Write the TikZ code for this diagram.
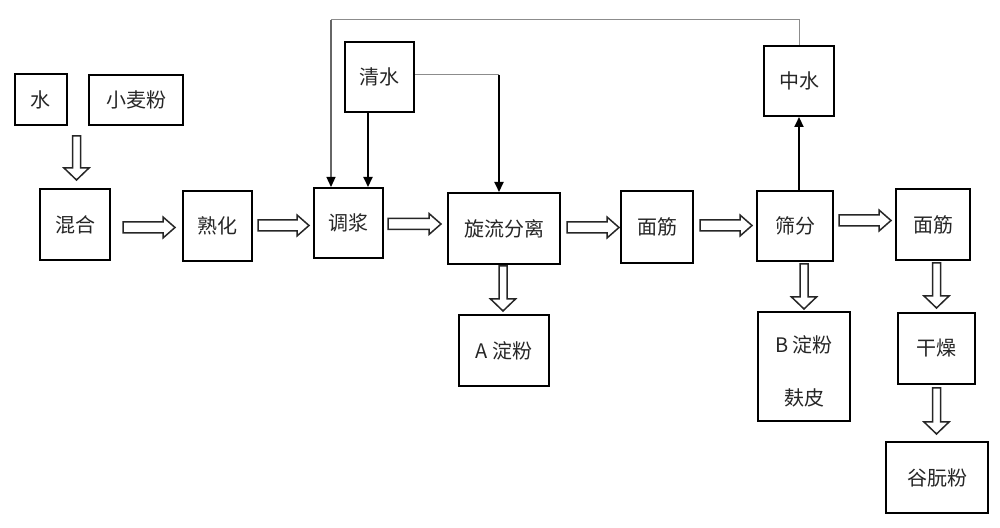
\documentclass[tikz,border=0pt]{standalone}
\usepackage{fontspec}
\newfontfamily\cjk{Noto Sans CJK SC}
\usetikzlibrary{arrows.meta,calc}
\newcommand\bx[6]{\node[box, minimum width=#4*0.5pt, minimum height=#5*0.5pt] (#1) at (#2,#3) {#6};}
\newcommand\hollowright[3]{\draw[hollow] (#1,#3-5.5) -- (#2-12,#3-5.5) -- (#2-12,#3-10.5) -- (#2,#3) -- (#2-12,#3+10.5) -- (#2-12,#3+5.5) -- (#1,#3+5.5) -- cycle;}
\newcommand\hollowdown[3]{\draw[hollow] (#1-4,#2) -- (#1-4,#3-12) -- (#1-12.5,#3-12) -- (#1,#3) -- (#1+12.5,#3-12) -- (#1+4,#3-12) -- (#1+4,#2) -- cycle;}
\tikzset{
  box/.style={draw=black, line width=1pt, inner sep=0pt, font=\cjk\fontsize{10pt}{12pt}\selectfont, text=black!85},
  txt/.style={inner sep=0pt, font=\cjk\fontsize{10pt}{12pt}\selectfont, text=black!85},
  hollow/.style={draw=black!85, line width=0.75pt, fill=white, line join=miter},
  thickarrow/.style={draw=black, line width=1pt, -{Triangle[length=5pt,width=4.5pt]}},
  thinline/.style={draw=black!45, line width=0.5pt},
  thinarrow/.style={draw=black!60, line width=0.6pt, -{Triangle[length=5pt,width=4.5pt,color=black]}}
}
\begin{document}
\begin{tikzpicture}[x=0.5pt,y=-0.5pt]
\useasboundingbox (0,0) rectangle (1000,528);
% boxes
\bx{sh}{41}{99.5}{52}{51}{\raisebox{-3.5pt}{水}}
\bx{xm}{136}{100}{94}{50}{\raisebox{-3.5pt}{小麦粉}}
\bx{hh}{75}{224.5}{70}{71}{混合}
\bx{sh2}{217.5}{226}{69}{70}{熟化}
\bx{tj}{348.5}{223}{69}{70}{调浆}
\bx{qs}{379.5}{77}{69}{70}{清水}
\bx{xl}{504}{228.5}{112}{71}{旋流分离}
\bx{mj1}{657}{227}{72}{72}{面筋}
\bx{sf}{795}{226}{76}{70}{筛分}
\bx{zs}{799}{81}{70}{70}{中水}
\bx{mj2}{933}{224.5}{74}{71}{面筋}
\bx{ad}{504}{350.5}{90}{71}{A 淀粉}
\bx{bd}{804}{366.5}{92}{109}{}
\node[txt] (bt1) at (804,345) {B 淀粉};
\node[txt] (bt2) at (804,398) {麸皮};
\bx{gz}{936.5}{348.5}{77}{71}{干燥}
\bx{gf}{937}{477.5}{102}{71}{谷朊粉}
% hollow arrows
\hollowdown{76.5}{136}{180}
\hollowright{123}{175}{227.5}
\hollowright{258}{309}{225.5}
\hollowright{388}{441}{224}
\hollowright{567}{619}{227.5}
\hollowright{700}{752}{225.5}
\hollowright{839}{891}{220.5}
\hollowdown{503}{266}{311}
\hollowdown{804}{264}{309}
\hollowdown{936.5}{263}{308}
\hollowdown{936.5}{388}{434}
% loop from 中水 back to 调浆
\coordinate (c1) at (331,20);
\draw[thinline] (zs.north) |- (c1);
\draw[thinarrow] (c1) -- (c1 |- tj.north);
% 清水 to 调浆
\draw[thickarrow] ([xshift=-5.75pt]qs.south) -- ([xshift=-5.75pt]qs.south |- tj.north);
% 清水 to 旋流分离
\coordinate (c2) at (499,75);
\draw[thinline] (qs.east |- c2) -- (c2);
\draw[thickarrow] (c2) -- (c2 |- xl.north);
% 筛分 to 中水
\draw[thickarrow] (zs.south |- sf.north) -- (zs.south);
\end{tikzpicture}
\end{document}
